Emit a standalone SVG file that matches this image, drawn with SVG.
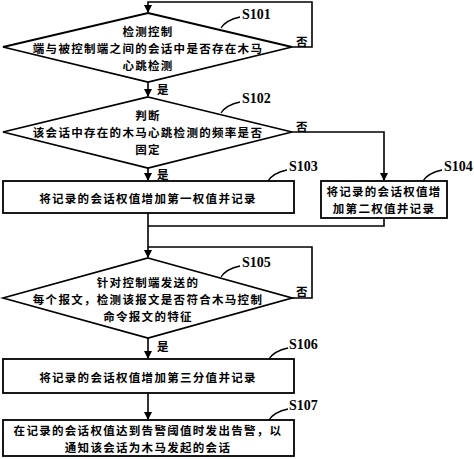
<svg xmlns="http://www.w3.org/2000/svg" width="474" height="459" viewBox="0 0 474 459">
<defs>
<marker id="ah" markerWidth="8" markerHeight="8" refX="7" refY="4" orient="auto" markerUnits="userSpaceOnUse">
<path d="M0,0 L8,4 L0,8 Z" fill="#000"/>
</marker>
<style>
.shape{fill:#fff;stroke:#000;stroke-width:1.8}
.ln{fill:none;stroke:#000;stroke-width:1.6}
.lead{fill:none;stroke:#000;stroke-width:1.3}
.t{font-family:"Noto Sans CJK SC","Noto Sans CJK JP",sans-serif;font-size:11.5px;font-weight:bold;fill:#000;text-anchor:middle;dominant-baseline:central;letter-spacing:1.3px}
.s{font-family:"Liberation Serif",serif;font-size:14px;font-weight:bold;fill:#000;dominant-baseline:central}
.y{font-family:"Noto Sans CJK SC",sans-serif;font-size:11.5px;font-weight:bold;fill:#000;dominant-baseline:central}
</style>
</defs>
<rect width="474" height="459" fill="#fff"/>
<g id="connectors">
<path class="ln" d="M292,47 H312 V2 H148 V12" marker-end="url(#ah)"/>
<path class="ln" d="M148,82 V96" marker-end="url(#ah)"/>
<path class="ln" d="M292,132 H384 V180" marker-end="url(#ah)"/>
<path class="ln" d="M148,168 V180" marker-end="url(#ah)"/>
<path class="ln" d="M148,213 V226 M384,218 V226 H148 M148,226 V257" marker-end="url(#ah)"/>
<path class="ln" d="M292,298 H312 V247 H148"/>
<path class="ln" d="M148,338 V358" marker-end="url(#ah)"/>
<path class="ln" d="M148,393 V419" marker-end="url(#ah)"/>
<text class="y" x="296" y="41">否</text>
<text class="y" x="296" y="126">否</text>
<text class="y" x="296" y="291">否</text>
<text class="y" x="157" y="89">是</text>
<text class="y" x="157" y="174">是</text>
<text class="y" x="157" y="346">是</text>
</g>
<g id="S101">
<polygon class="shape" points="148,13 292,47 148,82 3,47"/>
<text class="t" x="148" y="31">检测控制</text>
<text class="t" x="148" y="48">端与被控制端之间的会话中是否存在木马</text>
<text class="t" x="148" y="65">心跳检测</text>
<path class="lead" d="M221,28 Q226,20 240,17"/>
<text class="s" x="242" y="14">S101</text>
</g>
<g id="S102">
<polygon class="shape" points="148,97 292,132 148,168 3,132"/>
<text class="t" x="148" y="115">判断</text>
<text class="t" x="148" y="132">该会话中存在的木马心跳检测的频率是否</text>
<text class="t" x="148" y="149">固定</text>
<path class="lead" d="M221,113 Q226,105 240,102"/>
<text class="s" x="242" y="98">S102</text>
</g>
<g id="S103">
<rect class="shape" x="3" y="181" width="291" height="32"/>
<text class="t" x="148" y="198">将记录的会话权值增加第一权值并记录</text>
<path class="lead" d="M268,181 Q273,173 287,170"/>
<text class="s" x="289" y="166">S103</text>
</g>
<g id="S104">
<rect class="shape" x="321" y="181" width="126" height="37"/>
<text class="t" x="384" y="191">将记录的会话权值增</text>
<text class="t" x="384" y="208">加第二权值并记录</text>
<path class="lead" d="M423,181 Q428,173 442,170"/>
<text class="s" x="444" y="166">S104</text>
</g>
<g id="S105">
<polygon class="shape" points="148,258 292,298 148,338 3,298"/>
<text class="t" x="148" y="282">针对控制端发送的</text>
<text class="t" x="148" y="299">每个报文，检测该报文是否符合木马控制</text>
<text class="t" x="148" y="316">命令报文的特征</text>
<path class="lead" d="M221,277 Q226,269 240,266"/>
<text class="s" x="242" y="262">S105</text>
</g>
<g id="S106">
<rect class="shape" x="3" y="359" width="291" height="34"/>
<text class="t" x="148" y="377">将记录的会话权值增加第三分值并记录</text>
<path class="lead" d="M269,359 Q274,351 288,348"/>
<text class="s" x="289" y="344">S106</text>
</g>
<g id="S107">
<rect class="shape" x="3" y="420" width="291" height="36"/>
<text class="t" x="148" y="430">在记录的会话权值达到告警阈值时发出告警，以</text>
<text class="t" x="148" y="447">通知该会话为木马发起的会话</text>
<path class="lead" d="M269,420 Q274,412 288,409"/>
<text class="s" x="289" y="405">S107</text>
</g>
</svg>
